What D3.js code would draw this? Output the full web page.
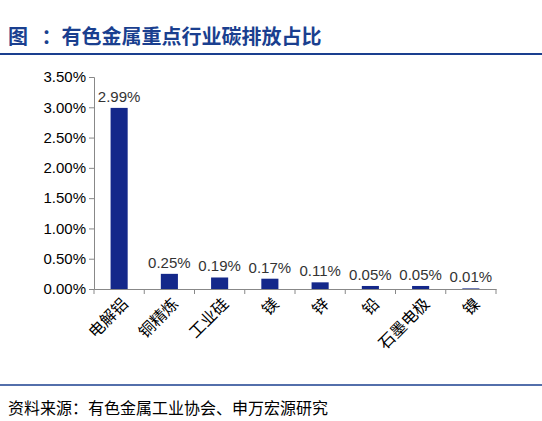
<!DOCTYPE html>
<html><head><meta charset="utf-8">
<script src="https://cdn.jsdelivr.net/npm/d3@7"></script>
<style>body{margin:0;background:#fff;font-family:"Liberation Sans","Noto Sans CJK SC",sans-serif}</style>
</head><body><svg width="542" height="421"></svg>
<script>
var categories = ["电解铝","铜精炼","工业硅","镁","锌","铅","石墨电极","镍"];
var values = [2.99,0.25,0.19,0.17,0.11,0.05,0.05,0.01];
var yTicks = [0,0.5,1,1.5,2,2.5,3,3.5];

var svg = d3.select("svg");
var margin = {left: 94, right: 46, top: 77, bottom: 132};
var width = 542 - margin.left - margin.right, height = 421 - margin.top - margin.bottom;

svg.append("text").attr("x", 8).attr("y", 44).style("font-size", "20px").style("font-weight", "bold")
  .style("fill", "#1a3f8f").style("font-family", "Noto Sans CJK SC").attr("xml:space", "preserve")
  .text("图   ：有色金属重点行业碳排放占比");
svg.append("line").attr("x1", 0).attr("x2", 542).attr("y1", 54).attr("y2", 54).style("stroke", "#1a3f8f").style("stroke-width", 2);

var g = svg.append("g").attr("transform", "translate(" + margin.left + "," + margin.top + ")");
var x = d3.scaleBand().domain(categories).range([0, width]).paddingInner(0.66).paddingOuter(0.33);
var y = d3.scaleLinear().domain([0, 3.5]).range([height, 0]);

var ya = g.append("g").call(d3.axisLeft(y).tickValues(yTicks).tickFormat(function(d){return d.toFixed(2)+"%";}).tickSize(5));
ya.selectAll("text").style("font-size", "15px").style("fill", "#000").style("font-family", "Liberation Sans");
ya.selectAll("line,path").style("stroke", "#888");

var xa = g.append("g").attr("transform", "translate(0," + height + ")")
  .call(d3.axisBottom(x).tickSize(0).tickFormat(""));
xa.select("path").style("stroke", "#888");
// tick marks between categories
g.selectAll(".sep").data(d3.range(categories.length + 1)).enter().append("line")
  .attr("x1", function(i){ return i * width / categories.length; })
  .attr("x2", function(i){ return i * width / categories.length; })
  .attr("y1", height).attr("y2", height + 5).style("stroke", "#888");

g.selectAll(".bar").data(values).enter().append("rect")
  .attr("x", function(d, i){ return x(categories[i]); })
  .attr("width", x.bandwidth())
  .attr("y", function(d){ return y(d); })
  .attr("height", function(d){ return height - y(d); })
  .style("fill", "#14288a");

g.selectAll(".lbl").data(values).enter().append("text")
  .attr("x", function(d, i){ return x(categories[i]) + x.bandwidth()/2; })
  .attr("y", function(d){ return y(d) - 6; })
  .attr("text-anchor", "middle").style("font-size", "15px").style("fill", "#333")
  .text(function(d){ return d.toFixed(2) + "%"; });

g.selectAll(".cat").data(categories).enter().append("text")
  .attr("transform", function(d){ return "translate(" + (x(d) + x.bandwidth()/2 + 6) + "," + (height + 12) + ") rotate(-45)"; })
  .attr("text-anchor", "end").attr("dy", "0.35em")
  .style("font-size", "16px").style("fill", "#000").style("font-family", "Noto Sans CJK SC")
  .text(function(d){ return d; });

svg.append("line").attr("x1", 0).attr("x2", 542).attr("y1", 385).attr("y2", 385).style("stroke", "#1a3f8f").style("stroke-width", 1.5);
svg.append("text").attr("x", 8).attr("y", 414).style("font-size", "16px").style("font-family", "Noto Sans CJK SC")
  .text("资料来源：有色金属工业协会、申万宏源研究");
</script></body></html>
